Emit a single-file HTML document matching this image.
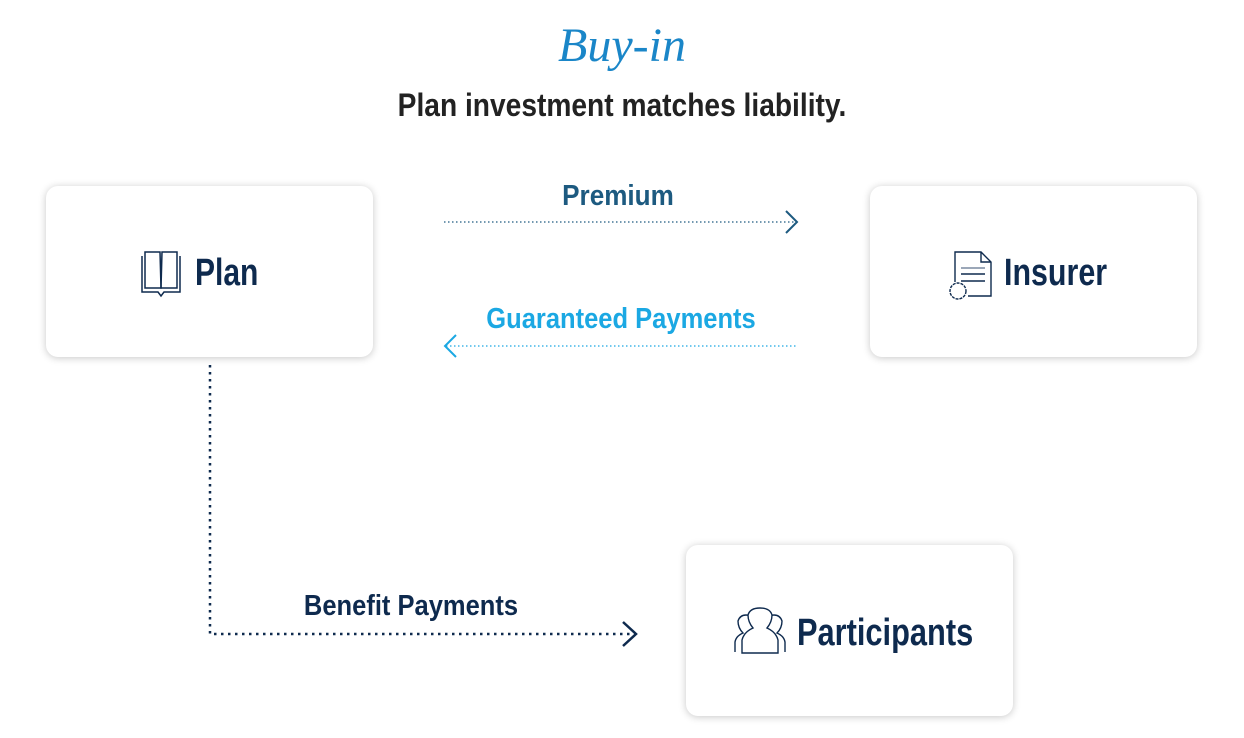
<!DOCTYPE html>
<html><head><style>
body{margin:0;width:1244px;height:738px;background:#fff;position:relative;overflow:hidden;font-family:"Liberation Sans",sans-serif;}
.t{position:absolute;white-space:nowrap;font-weight:bold;}
.c{transform-origin:center top;}
.l{transform-origin:left top;}
.box{position:absolute;background:#fff;border-radius:12px;box-shadow:0 1px 8px rgba(0,0,0,0.22);}
</style></head><body>
<div class="t" style="left:0;width:1244px;text-align:center;top:18px;font-family:'Liberation Serif',serif;font-style:italic;font-weight:normal;font-size:48px;color:#1a86c8;">Buy-in</div>
<div class="t c" style="left:0;width:1244px;text-align:center;top:87px;font-size:32px;color:#222;transform:scaleX(0.88);">Plan investment matches liability.</div>

<div class="box" style="left:46px;top:186px;width:327px;height:171px;"></div>
<div class="box" style="left:870px;top:186px;width:327px;height:171px;"></div>
<div class="box" style="left:686px;top:545px;width:327px;height:171px;"></div>

<div class="t l" style="left:195px;top:252px;font-size:38px;color:#0e2a4e;transform:scaleX(0.79);">Plan</div>
<div class="t l" style="left:1004px;top:252px;font-size:38px;color:#0e2a4e;transform:scaleX(0.8);">Insurer</div>
<div class="t l" style="left:797px;top:612px;font-size:38px;color:#0e2a4e;transform:scaleX(0.81);">Participants</div>

<div class="t c" style="left:440px;width:356px;text-align:center;top:180px;font-size:29px;color:#1d5a80;transform:scaleX(0.9);">Premium</div>
<div class="t c" style="left:443px;width:356px;text-align:center;top:303px;font-size:29px;color:#1ba8e3;transform:scaleX(0.88);">Guaranteed Payments</div>
<div class="t c" style="left:289px;width:244px;text-align:center;top:590px;font-size:29px;color:#0e2a4e;transform:scaleX(0.88);">Benefit Payments</div>

<svg width="1244" height="738" style="position:absolute;left:0;top:0">
<line x1="444" y1="222" x2="796" y2="222" stroke="#1d5a80" stroke-width="1.2" stroke-dasharray="1.5 2.5"/>
<polyline points="786,211 797,222 786,233" fill="none" stroke="#1d5a80" stroke-width="2"/>
<line x1="446" y1="346" x2="798" y2="346" stroke="#1ba8e3" stroke-width="1.2" stroke-dasharray="1.5 2.5"/>
<polyline points="456,335 445,346 456,357" fill="none" stroke="#1ba8e3" stroke-width="2"/>
<polyline points="210,365 210,634 634,634" fill="none" stroke="#0e2a4e" stroke-width="2.5" stroke-dasharray="2.5 4.5"/>
<polyline points="623,622 636,634 623,646" fill="none" stroke="#0e2a4e" stroke-width="2.5"/>
<g fill="none" stroke="#0e2a4e" stroke-width="1.5">
<path d="M145,252 L160,252 L161,288 L145,288 Z"/>
<path d="M177,252 L162,252 L161,288 L177,288 Z"/>
<path d="M142,256 L142,292 L158,292 L161,296 L164,292 L180,292 L180,256"/>
</g>
<g fill="none" stroke="#0e2a4e" stroke-width="1.4">
<path d="M955,282 L955,252 L981,252 L991,262 L991,296 L968,296"/>
<path d="M981,252 L981,262 L991,262"/>
<line x1="961" y1="268" x2="985" y2="268" stroke="#7a8aa0"/>
<line x1="961" y1="274" x2="985" y2="274"/>
<line x1="961" y1="281" x2="985" y2="281"/>
<circle cx="958" cy="291" r="8" stroke-dasharray="3 1" fill="#fff"/>
</g>
<g fill="none" stroke="#0e2a4e" stroke-width="1.4">
<path d="M735,652 L735,642 Q736,636 743,633 Q738,628 738,621 Q740,615 746,615 Q751,615 753,619"/>
<path d="M785,652 L785,642 Q784,636 777,633 Q782,628 782,621 Q780,615 774,615 Q769,615 767,619"/>
<path d="M742,653 L742,640 Q744,632 753,628 Q748,622 748,615 Q750,608 760,608 Q770,608 772,615 Q772,622 767,628 Q776,632 778,640 L778,653 Z" fill="#fff"/>
</g>
</svg>
</body></html>
